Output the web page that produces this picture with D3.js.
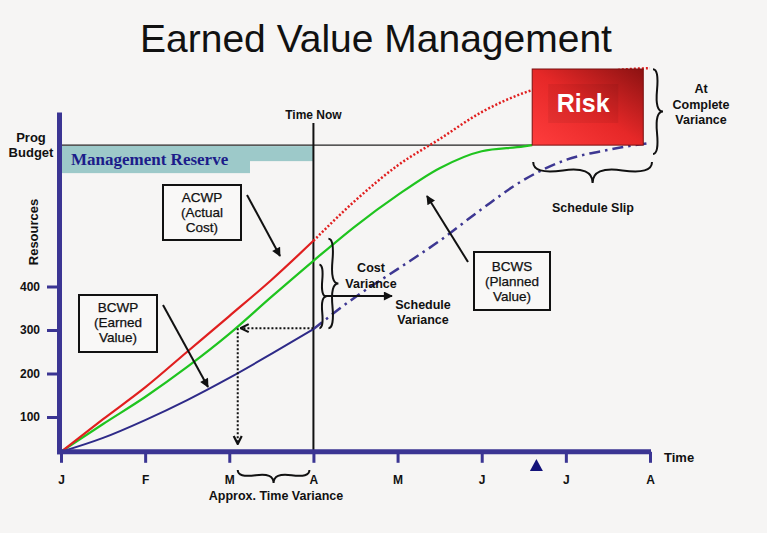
<!DOCTYPE html>
<html>
<head>
<meta charset="utf-8">
<script src="https://cdn.jsdelivr.net/npm/d3@7"></script>
<style>
  html, body { margin: 0; padding: 0; background: #f6f5f4; }
  svg { display: block; font-family: "Liberation Sans", Arial, sans-serif; }
</style>
</head>
<body>
<svg id="chart" width="767" height="533"></svg>
<script>
// ---------------- DATA ----------------
const months = ["J", "F", "M", "A", "M", "J", "J", "A"];
const yTicks = [100, 200, 300, 400];

// ACWP (Actual Cost) – actual to Time Now, then forecast (dotted)
const acwpIdx = [0, 0.5, 1, 1.5, 2, 2.5, 3];
const acwpVal = [20, 95, 168, 250, 332, 415, 505];
const acwpFcIdx = [3, 3.5, 4, 4.5, 5, 5.5, 6, 6.5, 7];
const acwpFcVal = [505, 598, 678, 739, 801, 845, 872, 895, 902];

// BCWS (Planned Value)
const bcwsIdx = [0, 0.5, 1, 1.5, 2, 2.5, 3, 3.5, 4, 4.5, 5, 5.5, 5.6];
const bcwsVal = [20, 84, 146, 215, 291, 376, 459, 539, 610, 672, 711, 722, 725];

// BCWP (Earned Value) – actual, then forecast (dash-dot)
const bcwpIdx = [0, 0.5, 1, 1.5, 2, 2.5, 3];
const bcwpVal = [20, 52, 93, 139, 190, 245, 302];
const bcwpFcIdx = [3, 3.5, 4, 4.5, 5, 5.5, 6, 6.5, 7];
const bcwpFcVal = [302, 376, 440, 505, 578, 645, 691, 714, 730];

const timeNowIdx = 3;
const progBudget = 725;
const axisBase = 20;
const yAxisTop = 800;
const plannedFinishIdx = 5.65;
const riskIdx = [5.6, 6.92];
const riskVal = [725, 900];

// ---------------- SCALES ----------------
const svg = d3.select("#chart");
const x = d3.scaleLinear().domain([0, 7]).range([61, 650]);
const y = d3.scaleLinear().domain([0, 400]).range([460.5, 286.5]);

const axisColor = "#3b3593";
const defs = svg.append("defs");

function marker(id, w, h, open) {
  const m = defs.append("marker").attr("id", id)
    .attr("viewBox", "0 0 10 10").attr("refX", 9).attr("refY", 5)
    .attr("markerUnits", "userSpaceOnUse")
    .attr("markerWidth", w).attr("markerHeight", h).attr("orient", "auto");
  if (open) {
    m.append("path").attr("d", "M1,1 L9,5 L1,9").attr("fill", "none")
      .attr("stroke", "#111").attr("stroke-width", 2.2);
  } else {
    m.append("path").attr("d", "M0,0 L10,5 L0,10 Z").attr("fill", "#111");
  }
}
marker("arrow", 10, 9, false);
marker("openArrow", 10, 11, true);

const grad = defs.append("linearGradient").attr("id", "riskGrad")
  .attr("x1", "0%").attr("y1", "100%").attr("x2", "100%").attr("y2", "0%");
grad.append("stop").attr("offset", "0%").attr("stop-color", "#ff3d3d");
grad.append("stop").attr("offset", "50%").attr("stop-color", "#e62828");
grad.append("stop").attr("offset", "100%").attr("stop-color", "#8c1212");

// ---------------- TITLE ----------------
svg.append("text").attr("x", 376).attr("y", 52).attr("text-anchor", "middle")
  .attr("font-size", 39).attr("fill", "#111").text("Earned Value Management");

// ---------------- MANAGEMENT RESERVE ----------------
const yb = y(progBudget);
svg.append("rect").attr("x", x(0)).attr("y", yb + 1)
  .attr("width", x(timeNowIdx) - x(0)).attr("height", 15).attr("fill", "#9dc9c9");
svg.append("rect").attr("x", x(0)).attr("y", yb + 1)
  .attr("width", 250 - x(0)).attr("height", 27).attr("fill", "#9dc9c9");
svg.append("text").attr("x", 71).attr("y", yb + 20)
  .attr("font-family", "'Liberation Serif', 'Times New Roman', serif")
  .attr("font-weight", "bold").attr("font-size", 17).attr("fill", "#1c1c8a")
  .text("Management Reserve");

// budget line
svg.append("line").attr("x1", x(0)).attr("x2", x(riskIdx[0]))
  .attr("y1", yb).attr("y2", yb).attr("stroke", "#222").attr("stroke-width", 1.2);

// Time Now line
svg.append("line").attr("x1", x(timeNowIdx)).attr("x2", x(timeNowIdx))
  .attr("y1", 123).attr("y2", y(axisBase)).attr("stroke", "#111").attr("stroke-width", 2);
svg.append("text").attr("x", x(timeNowIdx)).attr("y", 119).attr("text-anchor", "middle")
  .attr("font-weight", "bold").attr("font-size", 12).attr("fill", "#111").text("Time Now");

// ---------------- CURVES ----------------
const line = d3.line().x(d => x(d[0])).y(d => y(d[1])).curve(d3.curveMonotoneX);
const zip = (a, b) => a.map((v, i) => [v, b[i]]);

svg.append("path").attr("d", line(zip(bcwpFcIdx, bcwpFcVal))).attr("fill", "none")
  .attr("stroke", "#3d3792").attr("stroke-width", 2.5).attr("stroke-dasharray", "11,5,2.5,5");
svg.append("path").attr("d", line(zip(acwpFcIdx, acwpFcVal))).attr("fill", "none")
  .attr("stroke", "#e01f1f").attr("stroke-width", 2.5).attr("stroke-dasharray", "2,2");
svg.append("path").attr("d", line(zip(bcwsIdx, bcwsVal))).attr("fill", "none")
  .attr("stroke", "#1fc41f").attr("stroke-width", 2.2);
svg.append("path").attr("d", line(zip(bcwpIdx, bcwpVal))).attr("fill", "none")
  .attr("stroke", "#2e2a88").attr("stroke-width", 2);
svg.append("path").attr("d", line(zip(acwpIdx, acwpVal))).attr("fill", "none")
  .attr("stroke", "#e01f1f").attr("stroke-width", 2.2);

// ---------------- AXES ----------------
const xAxis = d3.axisBottom(x).tickValues(d3.range(months.length))
  .tickFormat(i => months[i]).tickSize(11).tickSizeOuter(0).tickPadding(13);
const gx = svg.append("g").attr("transform", `translate(0,${y(axisBase)})`).call(xAxis);
gx.select(".domain").remove();
gx.selectAll(".tick line").attr("stroke", axisColor).attr("stroke-width", 3);
gx.selectAll(".tick text").attr("font-size", 12).attr("font-weight", "bold")
  .attr("fill", "#111").attr("font-family", "'Liberation Sans', Arial, sans-serif");

const yAxis = d3.axisLeft(y).tickValues(yTicks).tickSize(14).tickSizeOuter(0).tickPadding(7);
const gy = svg.append("g").attr("transform", `translate(${x(0)},0)`).call(yAxis);
gy.select(".domain").remove();
gy.selectAll(".tick line").attr("stroke", axisColor).attr("stroke-width", 3);
gy.selectAll(".tick text").attr("font-size", 12).attr("font-weight", "bold")
  .attr("fill", "#111").attr("font-family", "'Liberation Sans', Arial, sans-serif");

svg.append("line").attr("x1", x(0) - 1.5).attr("x2", x(0) - 1.5)
  .attr("y1", y(yAxisTop)).attr("y2", y(axisBase) + 2.5)
  .attr("stroke", axisColor).attr("stroke-width", 5);
svg.append("line").attr("x1", x(0) - 4).attr("x2", x(7) + 1)
  .attr("y1", y(axisBase)).attr("y2", y(axisBase))
  .attr("stroke", axisColor).attr("stroke-width", 5);

// planned finish marker
const tx = x(plannedFinishIdx);
svg.append("path").attr("d", `M${tx - 6.5},471 L${tx + 6.5},471 L${tx},459 Z`).attr("fill", "#14137a");

// axis titles
svg.append("text").attr("x", 664).attr("y", 462).attr("font-weight", "bold")
  .attr("font-size", 13).attr("fill", "#111").text("Time");
svg.append("text").attr("transform", "translate(38,232) rotate(-90)").attr("text-anchor", "middle")
  .attr("font-weight", "bold").attr("font-size", 13).attr("fill", "#111").text("Resources");
svg.append("text").attr("x", 31).attr("y", 142).attr("text-anchor", "middle")
  .attr("font-weight", "bold").attr("font-size", 13).attr("fill", "#111").text("Prog");
svg.append("text").attr("x", 31).attr("y", 157).attr("text-anchor", "middle")
  .attr("font-weight", "bold").attr("font-size", 13).attr("fill", "#111").text("Budget");

// ---------------- ANNOTATION BOXES ----------------
function box(x0, y0, w, h, lines, baseline) {
  svg.append("rect").attr("x", x0).attr("y", y0).attr("width", w).attr("height", h)
    .attr("fill", "#f9f8f7").attr("stroke", "#111").attr("stroke-width", 2);
  lines.forEach((t, i) => {
    svg.append("text").attr("x", x0 + w / 2).attr("y", baseline + i * 15)
      .attr("text-anchor", "middle").attr("font-size", 13.5).attr("fill", "#111")
      .attr("stroke", "#111").attr("stroke-width", 0.25).text(t);
  });
}
function arrow(x1, y1, x2, y2) {
  svg.append("line").attr("x1", x1).attr("y1", y1).attr("x2", x2).attr("y2", y2)
    .attr("stroke", "#111").attr("stroke-width", 2).attr("marker-end", "url(#arrow)");
}
box(163, 185, 78, 55, ["ACWP", "(Actual", "Cost)"], 202);
arrow(247, 195, 280, 256);
box(79, 295, 78, 57, ["BCWP", "(Earned", "Value)"], 312);
arrow(163, 305, 208, 387);
box(474, 252, 76, 58, ["BCWS", "(Planned", "Value)"], 271);
arrow(468, 262, 427, 196);

// ---------------- BRACES ----------------
function bracePath(x1, y1, x2, y2, w, q) {
  let dx = x1 - x2, dy = y1 - y2;
  const len = Math.sqrt(dx * dx + dy * dy);
  dx /= len; dy /= len;
  const qx1 = x1 + q * w * dy, qy1 = y1 - q * w * dx;
  const qx2 = (x1 - .25 * len * dx) + (1 - q) * w * dy, qy2 = (y1 - .25 * len * dy) - (1 - q) * w * dx;
  const tx1 = (x1 - .5 * len * dx) + w * dy, ty1 = (y1 - .5 * len * dy) - w * dx;
  const qx3 = x2 + q * w * dy, qy3 = y2 - q * w * dx;
  const qx4 = (x1 - .75 * len * dx) + (1 - q) * w * dy, qy4 = (y1 - .75 * len * dy) - (1 - q) * w * dx;
  return `M${x1},${y1} Q${qx1},${qy1} ${qx2},${qy2} T${tx1},${ty1} M${x2},${y2} Q${qx3},${qy3} ${qx4},${qy4} T${tx1},${ty1}`;
}
function brace(x1, y1, x2, y2, w) {
  svg.append("path").attr("d", bracePath(x1, y1, x2, y2, w, 0.6))
    .attr("fill", "none").attr("stroke", "#111").attr("stroke-width", 2);
}
const xt = x(timeNowIdx);
const acwpNow = y(acwpVal[acwpVal.length - 1]);
const bcwsNow = y(bcwsVal[bcwsIdx.indexOf(timeNowIdx)]);
const bcwpNow = y(bcwpVal[bcwpVal.length - 1]);

// Cost variance brace (ACWP .. BCWP)
brace(xt + 15, bcwpNow - 1, xt + 15, acwpNow - 2, 10);
svg.append("text").attr("x", 371).attr("y", 272).attr("text-anchor", "middle")
  .attr("font-weight", "bold").attr("font-size", 12.5).attr("fill", "#111").text("Cost");
svg.append("text").attr("x", 371).attr("y", 288).attr("text-anchor", "middle")
  .attr("font-weight", "bold").attr("font-size", 12.5).attr("fill", "#111").text("Variance");

// Schedule variance brace (BCWS .. BCWP)
brace(xt + 6, bcwpNow - 1, xt + 6, bcwsNow + 4, 7);
svg.append("line").attr("x1", xt + 11).attr("x2", 392).attr("y1", 296).attr("y2", 296)
  .attr("stroke", "#111").attr("stroke-width", 2).attr("marker-end", "url(#arrow)");
svg.append("text").attr("x", 423).attr("y", 309).attr("text-anchor", "middle")
  .attr("font-weight", "bold").attr("font-size", 12.5).attr("fill", "#111").text("Schedule");
svg.append("text").attr("x", 423).attr("y", 324).attr("text-anchor", "middle")
  .attr("font-weight", "bold").attr("font-size", 12.5).attr("fill", "#111").text("Variance");

// Time variance: where planned value equals current earned value
const evNow = bcwpVal[bcwpVal.length - 1];
let tvIdx = 0;
for (let i = 1; i < bcwsVal.length; i++) {
  if (bcwsVal[i] >= evNow) {
    tvIdx = bcwsIdx[i - 1] + (evNow - bcwsVal[i - 1]) / (bcwsVal[i] - bcwsVal[i - 1]) * (bcwsIdx[i] - bcwsIdx[i - 1]);
    break;
  }
}
const xtv = x(tvIdx) + 3;
svg.append("line").attr("x1", xt).attr("x2", xtv + 3).attr("y1", bcwpNow - 1).attr("y2", bcwpNow - 1)
  .attr("stroke", "#111").attr("stroke-width", 2).attr("stroke-dasharray", "2,2")
  .attr("marker-end", "url(#openArrow)");
svg.append("line").attr("x1", xtv).attr("x2", xtv).attr("y1", bcwpNow - 1).attr("y2", 444)
  .attr("stroke", "#111").attr("stroke-width", 2).attr("stroke-dasharray", "2,2")
  .attr("marker-end", "url(#openArrow)");
brace(xtv, 470, xt - 4, 470, 13);
svg.append("text").attr("x", 276).attr("y", 500).attr("text-anchor", "middle")
  .attr("font-weight", "bold").attr("font-size", 12.5).attr("fill", "#111").text("Approx. Time Variance");

// ---------------- RISK ----------------
const rx0 = x(riskIdx[0]), rx1 = x(riskIdx[1]);
const ry0 = y(riskVal[1]), ry1 = y(riskVal[0]);
svg.append("rect").attr("x", rx0).attr("y", ry0).attr("width", rx1 - rx0).attr("height", ry1 - ry0)
  .attr("fill", "url(#riskGrad)").attr("stroke", "#7a1010").attr("stroke-width", 1);
svg.append("rect").attr("x", rx0 + 16).attr("y", ry0 + 15).attr("width", 70).attr("height", 39)
  .attr("fill", "#000").attr("opacity", 0.06);
svg.append("text").attr("x", rx0 + 51).attr("y", ry0 + 43).attr("text-anchor", "middle")
  .attr("font-weight", "bold").attr("font-size", 25).attr("fill", "#fff").text("Risk");

// At complete variance
brace(x(7) + 3, y(bcwpFcVal[bcwpFcVal.length - 1]) + 11, x(7) + 3, y(acwpFcVal[acwpFcVal.length - 1]) + 1, 10);
["At", "Complete", "Variance"].forEach((t, i) => {
  svg.append("text").attr("x", 701).attr("y", 93 + i * 15.5).attr("text-anchor", "middle")
    .attr("font-weight", "bold").attr("font-size", 12.5).attr("fill", "#111").text(t);
});

// Schedule slip
brace(x(bcwsIdx[bcwsIdx.length - 1]) + 1, 162, x(7) + 2, 162, 21);
svg.append("text").attr("x", 593).attr("y", 212).attr("text-anchor", "middle")
  .attr("font-weight", "bold").attr("font-size", 12.5).attr("fill", "#111").text("Schedule Slip");
</script>
</body>
</html>
